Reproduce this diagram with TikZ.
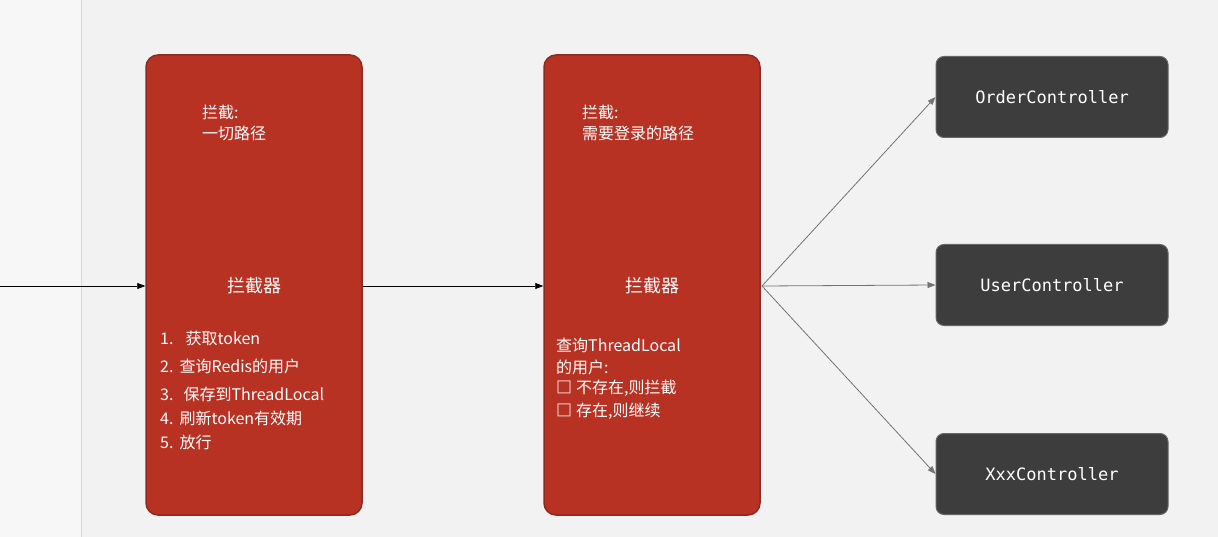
\documentclass[tikz,border=0pt]{standalone}
\usepackage{fontspec}
\setmainfont{Noto Sans CJK SC}
\newfontfamily\monof{DejaVu Sans Mono}
\usetikzlibrary{arrows.meta}
\definecolor{redbox}{HTML}{B83224}
\definecolor{rededge}{HTML}{8E2A20}
\definecolor{darkbox}{HTML}{3D3D3D}
\definecolor{bg}{HTML}{F2F2F2}
\tikzset{
  redstage/.style={draw=rededge,line width=1.5pt,fill=redbox,rounded corners=12pt,minimum width=216pt,minimum height=460pt,inner sep=0pt},
  ctrl/.style={draw=black!60,line width=1pt,fill=darkbox,rounded corners=8pt,minimum width=232pt,minimum height=81pt,text=white,font=\monof\fontsize{17}{20}\selectfont},
  wt/.style={text=white,font=\fontsize{16}{19}\selectfont,anchor=base west,inner sep=0pt},
  title/.style={text=white,font=\fontsize{18}{21}\selectfont,inner sep=0pt},
  blk/.style={-{Triangle[length=8pt,width=6pt]},line width=0.7pt,black},
  gry/.style={-{Triangle[length=8pt,width=6pt]},line width=0.8pt,black!55}
}
\begin{document}
\begin{tikzpicture}[x=1pt,y=-1pt]
\useasboundingbox (0,0) rectangle (1218,537);
\fill[white!97!black] (0,0) rectangle (81,537);
\fill[bg] (81,0) rectangle (1218,537);
\draw[black!15,line width=1pt] (81,0) -- (81,537);
\node[redstage] (b1) at (254,285) {};
\node[redstage] (b2) at (652,285) {};
\node[ctrl] (c1) at (1052,97) {OrderController};
\node[ctrl] (c2) at (1052,285) {UserController};
\node[ctrl] (c3) at (1052,474) {XxxController};
\coordinate (in) at (0,286);
\draw[blk] (in) -- (b1.west |- in);
\draw[blk] (b1.east |- in) -- (b2.west |- in);
\coordinate (fan) at (762,286);
\draw[gry] (fan) -- (c1.west);
\draw[gry] (fan) -- (c2.west);
\draw[gry] (fan) -- (c3.west);
% box 1
\node[wt] (t1a) at (202,119) {拦截:};
\node[wt] (t1b) at (202,140) {一切路径};
\node[title] (h1) at (254,286) {拦截器};
\node[wt] (l1) at (160,344) {1.\hspace{12pt}获取token};
\node[wt] (l2) at (160,372) {2.\hspace{6pt}查询Redis的用户};
\node[wt] (l3) at (160,400) {3.\hspace{10pt}保存到ThreadLocal};
\node[wt] (l4) at (160,424) {4.\hspace{6pt}刷新token有效期};
\node[wt] (l5) at (160,448) {5.\hspace{6pt}放行};
% box 2
\node[wt] (t2a) at (582,119) {拦截:};
\node[wt] (t2b) at (582,140) {需要登录的路径};
\node[title] (h2) at (652,286) {拦截器};
\node[wt] (m1) at (556,351) {查询ThreadLocal};
\node[wt] (m2) at (556,373) {的用户:};
\node[wt] (m3) at (556,393) {\textbf{□}\hspace{4pt}不存在,则拦截};
\node[wt] (m4) at (556,416) {\textbf{□}\hspace{4pt}存在,则继续};
\end{tikzpicture}
\end{document}
